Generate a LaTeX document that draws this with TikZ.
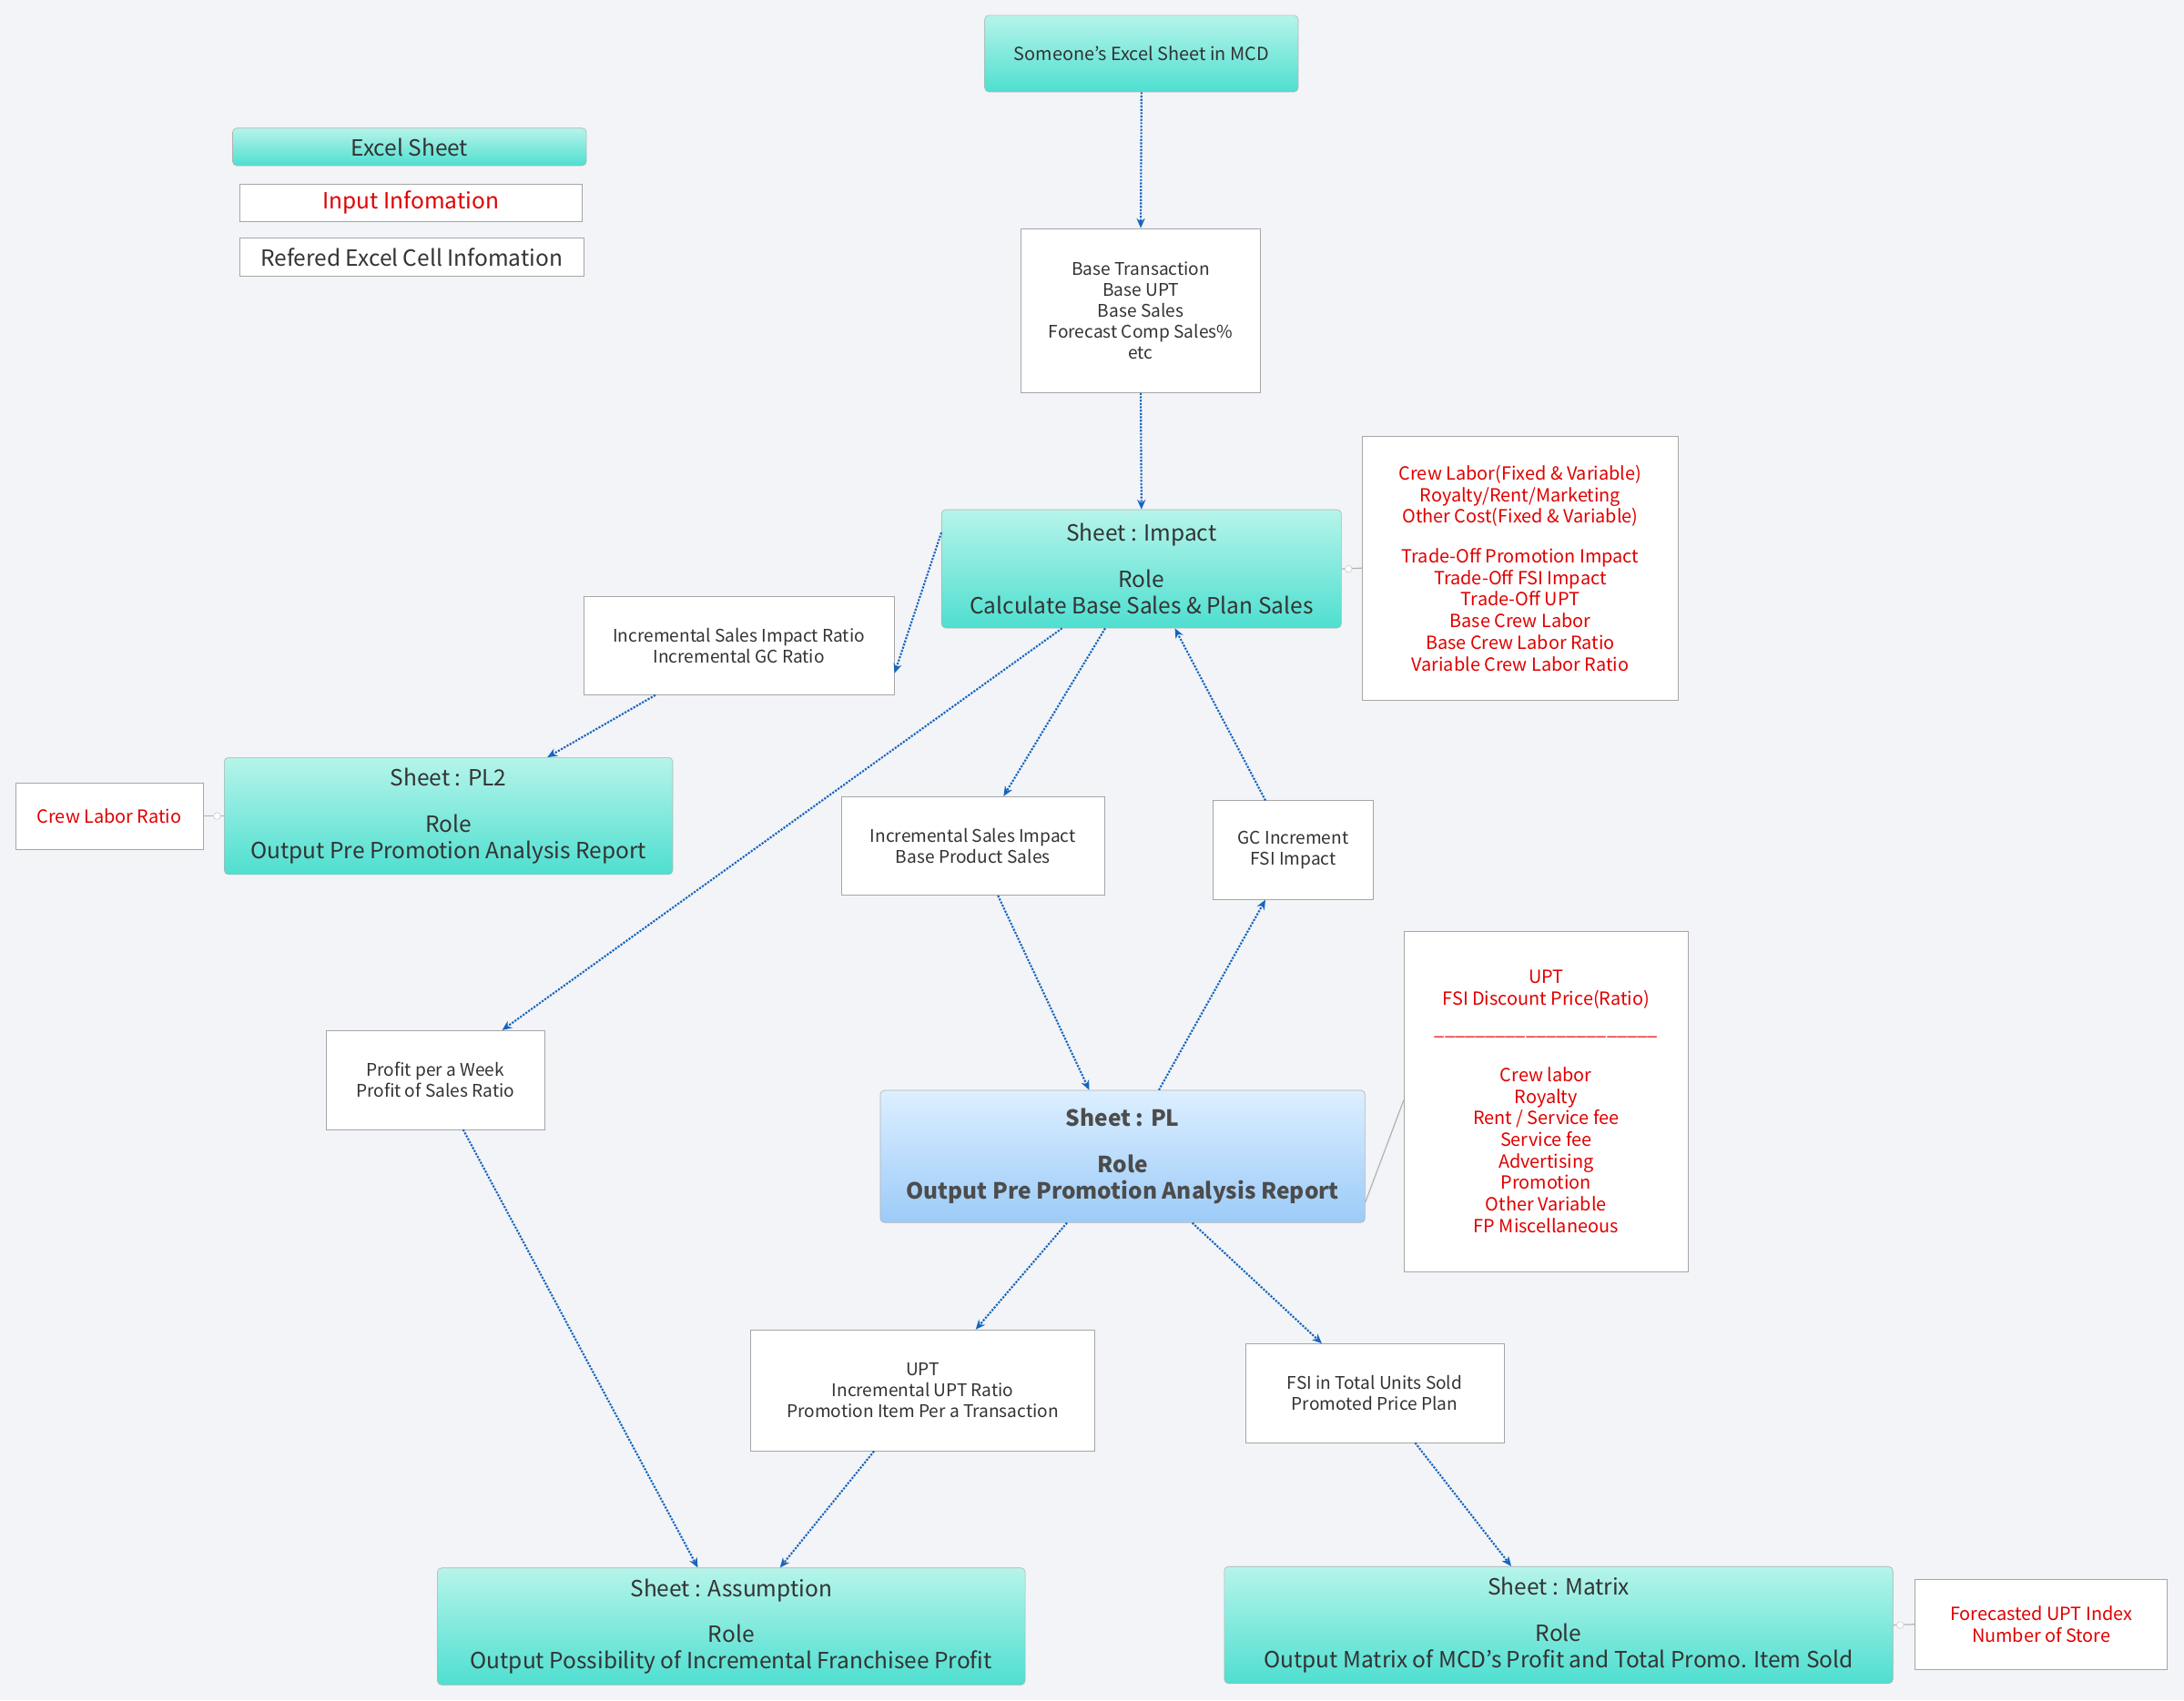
\documentclass[tikz,border=0pt]{standalone}
\usepackage{fontspec}
\setmainfont{Noto Sans CJK JP}
\usetikzlibrary{arrows.meta}
\definecolor{bg}{HTML}{F3F4F7}
\definecolor{tt}{HTML}{B6F4EA}
\definecolor{tb}{HTML}{4EDFD0}
\definecolor{bt}{HTML}{DCEFFF}
\definecolor{bb}{HTML}{9CCBF8}
\definecolor{rd}{HTML}{E00000}
\definecolor{tx}{HTML}{333333}
\definecolor{ln}{HTML}{1565C0}
\begin{document}
\begin{tikzpicture}[x=1pt,y=-1pt,
 box/.style={draw=gray!70,fill=white,align=center,inner sep=2pt,text=tx,font=\fontsize{12.5}{15}\selectfont},
 rbox/.style={box,text=rd,font=\fontsize{13}{15.5}\selectfont},
 sheet/.style={draw=gray!60,rounded corners=3pt,top color=tt,bottom color=tb,align=center,text=tx,font=\fontsize{16}{19}\selectfont},
 psheet/.style={sheet,top color=bt,bottom color=bb,font=\bfseries\fontsize{16}{19}\selectfont,text=black!70},
 arr/.style={ln,densely dotted,line width=1.4pt,-{Stealth[length=7pt,width=6pt]}},
 cn/.style={gray!60,line width=0.8pt},
 sz/.style n args={2}{minimum width=#1,minimum height=#2}]
\useasboundingbox[fill=bg] (0,0) rectangle (1568,1221);
\node[sheet,sz={225}{55},font=\fontsize{13}{15}\selectfont] (top) at (819.5,38.5) {Someone's Excel Sheet in MCD};
\node[sheet,sz={254}{27}] (l1) at (294,105.5) {Excel Sheet};
\node[box,sz={246}{27},text=rd,font=\fontsize{16}{19}\selectfont] (l2) at (295,145.5) {Input Infomation};
\node[box,sz={247}{27},font=\fontsize{16}{19}\selectfont] (l3) at (295.5,184.5) {Refered Excel Cell Infomation};
\node[box,sz={172}{118}] (base) at (819,223) {Base Transaction\\Base UPT\\Base Sales\\Forecast Comp Sales\%\\etc};
\node[sheet,sz={287}{85}] (imp) at (819.5,408.5) {Sheet : Impact\\[14pt]Role\\Calculate Base Sales \& Plan Sales};
\node[rbox,sz={227}{190}] (r1) at (1091.5,408) {Crew Labor(Fixed \& Variable)\\Royalty/Rent/Marketing\\Other Cost(Fixed \& Variable)\\[13pt]Trade-Off Promotion Impact\\Trade-Off FSI Impact\\Trade-Off UPT\\Base Crew Labor\\Base Crew Labor Ratio\\Variable Crew Labor Ratio};
\node[box,sz={223}{71}] (isr) at (530.5,463.5) {Incremental Sales Impact Ratio\\Incremental GC Ratio};
\node[sheet,sz={322}{84}] (pl2) at (322,586) {Sheet : PL2\\[14pt]Role\\Output Pre Promotion Analysis Report};
\node[rbox,sz={135}{48}] (clr) at (78.5,586) {Crew Labor Ratio};
\node[box,sz={189}{71}] (isi) at (698.5,607.5) {Incremental Sales Impact\\Base Product Sales};
\node[box,sz={115}{71}] (gc) at (928.5,610.5) {GC Increment\\FSI Impact};
\node[box,sz={157}{71}] (pw) at (312.5,775.5) {Profit per a Week\\Profit of Sales Ratio};
\node[psheet,sz={348}{95}] (pl) at (806,830.5) {Sheet : PL\\[14pt]Role\\Output Pre Promotion Analysis Report};
\node[rbox,sz={204}{244}] (r2) at (1110,791) {UPT\\FSI Discount Price(Ratio)\\[2pt]\rule{0pt}{16pt}\_\_\_\_\_\_\_\_\_\_\_\_\_\_\_\_\_\_\_\_\_\_\\[18pt]Crew labor\\Royalty\\Rent / Service fee\\Service fee\\Advertising\\Promotion\\Other Variable\\FP Miscellaneous};
\node[box,sz={247}{87}] (upt) at (662.5,998.5) {UPT\\Incremental UPT Ratio\\Promotion Item Per a Transaction};
\node[box,sz={186}{71}] (fsi) at (987,1000.5) {FSI in Total Units Sold\\Promoted Price Plan};
\node[sheet,sz={422}{84}] (as) at (525,1168) {Sheet : Assumption\\[14pt]Role\\Output Possibility of Incremental Franchisee Profit};
\node[sheet,sz={480}{84}] (mx) at (1119,1167) {Sheet : Matrix\\[14pt]Role\\Output Matrix of MCD's Profit and Total Promo. Item Sold};
\node[rbox,sz={181}{65}] (fc) at (1465.5,1166.5) {Forecasted UPT Index\\Number of Store};
% gray connectors
\draw[cn] (imp.east) -- (r1.west); \fill[white,draw=gray!40] ([xshift=5]imp.east) circle (2.5);
\draw[cn] (clr.east) -- (pl2.west); \fill[white,draw=gray!40] ([xshift=-5]pl2.west) circle (2.5);
\draw[cn] ([yshift=-33]pl.east) -- ([yshift=1]r2.west);
\draw[cn] (mx.east) -- (fc.west); \fill[white,draw=gray!40] ([xshift=5]mx.east) circle (2.5);
% arrows
\draw[arr] (top.south) -- (base.north);
\draw[arr] (base.south) -- (imp.north);
\draw[arr] ([yshift=26]imp.west) -- ([yshift=-20]isr.east);
\draw[arr] ([xshift=-60]isr.south) -- ([xshift=71]pl2.north);
\draw[arr] ([xshift=-57]imp.south) -- ([xshift=48]pw.north);
\draw[arr] ([xshift=-26]imp.south) -- ([xshift=22]isi.north);
\draw[arr] ([xshift=-20]gc.north) -- ([xshift=24]imp.south);
\draw[arr] ([xshift=18]isi.south) -- ([xshift=-24]pl.north);
\draw[arr] ([xshift=26]pl.north) -- ([xshift=-20]gc.south);
\draw[arr] ([xshift=20]pw.south) -- ([xshift=-24]as.north);
\draw[arr] ([xshift=-40]pl.south) -- ([xshift=38]upt.north);
\draw[arr] ([xshift=50]pl.south) -- ([xshift=-38]fsi.north);
\draw[arr] ([xshift=-35]upt.south) -- ([xshift=35]as.north);
\draw[arr] ([xshift=29]fsi.south) -- ([xshift=-34]mx.north);
\end{tikzpicture}
\end{document}
